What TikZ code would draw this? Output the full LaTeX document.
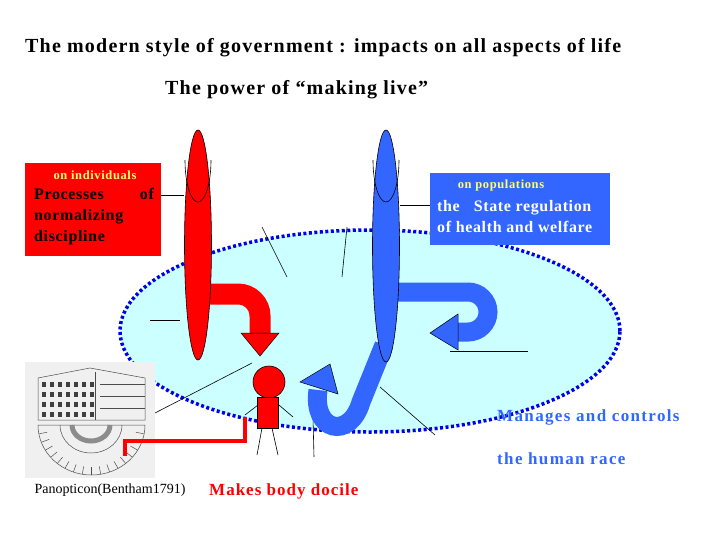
\documentclass[tikz,border=0pt]{standalone}
\usepackage{fontspec}
\setmainfont{Liberation Serif}
\usetikzlibrary{shapes.geometric}
\begin{document}
\begin{tikzpicture}[x=1pt,y=-1pt,
  thin line/.style={black,line width=0.6pt},
  bar/.style={draw=black,line width=0.6pt},
  lbl/.style={font=\bfseries,inner sep=0pt,anchor=west}]
\definecolor{pblue}{RGB}{51,102,255}
\definecolor{pcyan}{RGB}{204,255,255}
\definecolor{pyel}{RGB}{255,255,102}
\definecolor{dblue}{RGB}{0,0,230}
\useasboundingbox (0,0) rectangle (716,533);
% titles
\node[lbl,font=\bfseries\fontsize{20}{22}\selectfont\addfontfeature{LetterSpace=6}] (title) at (25,48) {The modern style of government : impacts on all aspects of life};
\node[lbl,font=\bfseries\fontsize{20}{22}\selectfont\addfontfeature{LetterSpace=6}] (sub) at (165,90) {The power of “making live”};
% big ellipse
\node[ellipse,draw=dblue,fill=pcyan,line width=3.5pt,dash pattern=on 3pt off 2.5pt,minimum width=500pt,minimum height=202pt,inner sep=0pt] (ell) at (370,331) {};
% boxes
\node[fill=red,minimum width=136pt,minimum height=93pt,anchor=north west,inner sep=0pt] (rbox) at (25,163) {};
\node[font=\bfseries\fontsize{12.5}{14}\selectfont\addfontfeature{LetterSpace=5},text=pyel,inner sep=0pt] (rhead) at (95,175) {on individuals};
\node[lbl,font=\bfseries\fontsize{16}{21}\selectfont\addfontfeature{LetterSpace=4},align=left] (rtext) at (34,217) {Processes\hspace{36pt}of\\normalizing\\discipline};
\node[fill=pblue,minimum width=180pt,minimum height=72pt,anchor=north west,inner sep=0pt] (bbox) at (430,173) {};
\node[font=\bfseries\fontsize{12.5}{14}\selectfont\addfontfeature{LetterSpace=5},text=pyel,inner sep=0pt] (bhead) at (501,185) {on populations};
\node[lbl,font=\bfseries\fontsize{16}{21}\selectfont\addfontfeature{LetterSpace=4},text=white,align=left] (btext) at (437,217) {the\hspace{14pt}State regulation\\of health and welfare};
% thin lines
\coordinate (l1a) at (150,320); \coordinate (l1b) at (180,320);
\draw[thin line] (rbox.east |- 0,195) -- (184,195);
\draw[thin line] (l1a) -- (l1b);
\coordinate (l2a) at (262,227); \coordinate (l2b) at (287,277);
\coordinate (l3a) at (347,227); \coordinate (l3b) at (342,277);
\draw[thin line] (l2a) -- (l2b); \draw[thin line] (l3a) -- (l3b);
\draw[thin line] (400,205) -- (bbox.west |- 0,205);
\coordinate (l4a) at (450,351); \coordinate (l4b) at (528,351);
\draw[thin line] (l4a) -- (l4b);
\coordinate (l5a) at (252,363); \coordinate (l5b) at (155,413);
\draw[thin line] (l5a) -- (l5b);
\coordinate (l6a) at (313,418); \coordinate (l6b) at (314,457);
\draw[thin line] (l6a) -- (l6b);
\coordinate (l7a) at (380,387); \coordinate (l7b) at (435,435);
\draw[thin line] (l7a) -- (l7b);
% red arrow
\draw[red,line width=21pt] (190,294) -- (238,294) arc[start angle=-90,end angle=0,radius=22] -- (260,334);
\fill[red,draw=black,line width=0.5pt] (241,333) -- (279,333) -- (260,356) -- cycle;
% red bar
\node[ellipse,bar,fill=red,minimum width=27pt,minimum height=230pt,inner sep=0pt] (rbar) at (198,245) {};
\draw[black,line width=0.6pt] (185,160) arc[start angle=180,end angle=0,x radius=13,y radius=42];
% blue right hook
\draw[pblue,line width=19pt] (395,292) -- (468,292) arc[start angle=-90,end angle=90,radius=20] -- (457,332);
\fill[pblue,draw=black,line width=0.5pt] (458,314) -- (458,350) -- (430,333) -- cycle;
% blue J
\draw[pblue,line width=19pt] (384,345) -- (361,402) .. controls (350,440) and (312,432) .. (318,390);
\fill[pblue,draw=black,line width=0.5pt] (300,382) -- (338,394) -- (330,364) -- cycle;
% blue bar
\node[ellipse,bar,fill=pblue,minimum width=27pt,minimum height=232pt,inner sep=0pt] (bbar) at (386,246) {};
\draw[black,line width=0.6pt] (373,160) arc[start angle=180,end angle=0,x radius=13,y radius=42];
% person
\draw[thin line] (258,405) -- (245,415);
\draw[thin line] (279,405) -- (293,417);
\draw[thin line] (262,428) -- (257,455);
\draw[thin line] (272,428) -- (278,455);
\node[circle,draw=black,fill=red,line width=0.6pt,minimum size=32pt,inner sep=0pt] (head) at (269,382) {};
\node[rectangle,draw=black,fill=red,line width=0.6pt,minimum width=21pt,minimum height=31pt,inner sep=0pt] (body) at (268,413) {};
% panopticon picture
\node[fill=black!6,minimum width=130pt,minimum height=116pt,anchor=north west,inner sep=0pt] (pan) at (25,362) {};
\begin{scope}[black!70,line width=0.5pt]
\draw (38,378) -- (90,368) -- (145,378) -- (145,420) -- (38,420) -- cycle;
\foreach \x in {42,50,...,92} \foreach \y in {382,392,...,412} \fill[black!75] (\x,\y) rectangle ++(4,5);
\foreach \y in {384,396,408} \draw (100,\y) -- (145,\y);
\draw (95,372) -- (95,420);
\draw (38,425) -- (145,425) arc[start angle=0,end angle=180,x radius=53.5,y radius=50] -- cycle;
\draw (60,425) arc[start angle=180,end angle=0,x radius=31,y radius=28];
\draw[black!45,line width=5pt] (72,425) arc[start angle=180,end angle=0,x radius=19,y radius=16];
\foreach \a in {190,200,...,350} \draw ({91.5+45*cos(\a)},{425-42*sin(\a)}) -- ({91.5+53*cos(\a)},{425-50*sin(\a)});
\end{scope}
\draw[red,line width=3.5pt] (245,417) -- (245,441) -- (125,441) -- (125,456);
% bottom texts
\node[font=\fontsize{14}{16}\selectfont,inner sep=0pt] (cap) at (110,490) {Panopticon(Bentham1791)};
\node[lbl,font=\bfseries\fontsize{17}{19}\selectfont\addfontfeature{LetterSpace=6},text=red] (docile) at (209,491) {Makes body docile};
\node[lbl,font=\bfseries\fontsize{17}{19}\selectfont\addfontfeature{LetterSpace=8},text=pblue] (man1) at (497,417) {Manages and controls};
\node[lbl,font=\bfseries\fontsize{17}{19}\selectfont\addfontfeature{LetterSpace=8},text=pblue] (man2) at (497,459) {the human race};
\end{tikzpicture}
\end{document}
